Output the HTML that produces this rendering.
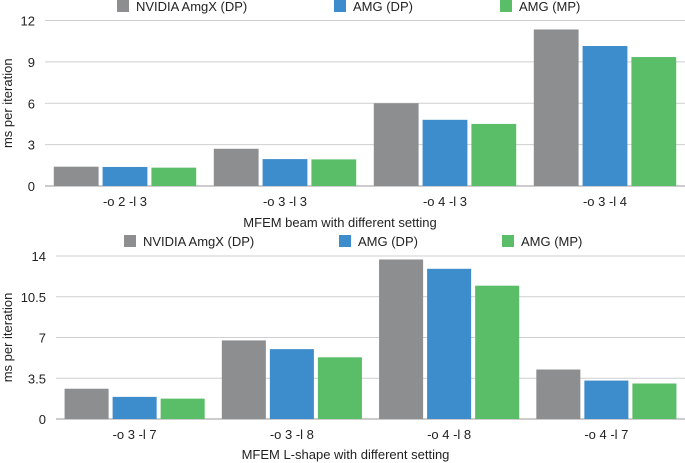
<!DOCTYPE html>
<html><head><meta charset="utf-8">
<style>
body{margin:0;background:#fff;}
svg{display:block;font-family:"Liberation Sans",sans-serif;}
</style></head>
<body>
<svg id="c" width="685" height="463"></svg>
<script>
const categoriesTop = ["-o 2 -l 3","-o 3 -l 3","-o 4 -l 3","-o 3 -l 4"];
const amgxTop = [1.4, 2.7, 6.0, 11.35];
const amgDpTop = [1.38, 1.95, 4.8, 10.15];
const amgMpTop = [1.33, 1.93, 4.5, 9.35];
const ticksTop = [0, 3, 6, 9, 12];

const categoriesBot = ["-o 3 -l 7","-o 3 -l 8","-o 4 -l 8","-o 4 -l 7"];
const amgxBot = [2.6, 6.75, 13.7, 4.25];
const amgDpBot = [1.9, 6.0, 12.9, 3.3];
const amgMpBot = [1.75, 5.3, 11.45, 3.05];
const ticksBot = [0, 3.5, 7, 10.5, 14];

const seriesNames = ["NVIDIA AmgX (DP)", "AMG (DP)", "AMG (MP)"];
const colors = ["#8c8e8f", "#3d8ccb", "#5abd67"];
const NS = "http://www.w3.org/2000/svg";
const svg = document.getElementById("c");

function mk(tag, attrs, parent){
  const e = document.createElementNS(NS, tag);
  for (const k in attrs) e.setAttribute(k, attrs[k]);
  (parent||svg).appendChild(e);
  return e;
}

function drawChart(cfg){
  const g = mk("g", {});
  
  
  const maxV = cfg.ticks[cfg.ticks.length-1];
  const y = v => cfg.y0 - (v/maxV)*(cfg.y0-cfg.yTop);
  const band = (cfg.right-cfg.left)/cfg.cats.length;
  // legend
  cfg.legend.forEach((lx,i)=>{
    const r = mk("rect",{x:lx,y:cfg.legY-6,width:12,height:12,fill:colors[i]},g);
    
    
    const t = mk("text",{x:lx+19,y:cfg.legY+5,"font-size":13,fill:"#222"},g);
    t.textContent = seriesNames[i];
    
    
  });
  // grid & ticks
  cfg.ticks.forEach(v=>{
    const yy = y(v);
    const l = mk("line",{x1:cfg.left,x2:cfg.right,y1:yy,y2:yy,stroke:v===0?"#999":"#cfcfcf","stroke-width":1},g);
    
    
    const t = mk("text",{x:cfg.left-10,y:yy+5,"font-size":13,"text-anchor":"end",fill:"#222"},g);
    t.textContent = v;
    
    
  });
  // bars
  const bw = band*0.28, gap = 4, pad = (band - 3*bw - 2*gap)/2;
  cfg.cats.forEach((c,ci)=>{
    const bx = cfg.left + ci*band;
    cfg.series.forEach((s,si)=>{
      const x = bx + pad + si*(bw+gap);
      const r = mk("rect",{x:x,y:y(s[ci]),width:bw,height:cfg.y0-y(s[ci]),fill:colors[si]},g);
      
      
    });
    const t = mk("text",{x:bx+band/2,y:cfg.y0+20,"font-size":13,"text-anchor":"middle",fill:"#222"},g);
    t.textContent = c;
    
    
  });
  const xt = mk("text",{x:(cfg.left+cfg.right)/2-25,y:cfg.xTitleY,"font-size":13,"text-anchor":"middle",fill:"#222"},g);
  xt.textContent = cfg.xTitle;
  
  
  const cy = (cfg.y0+cfg.yTop)/2;
  const yt = mk("text",{x:0,y:0,"font-size":13,"text-anchor":"middle",fill:"#222",transform:"translate(12,"+cy+") rotate(-90)"},g);
  yt.textContent = "ms per iteration";
  
  
}

drawChart({name:"top-chart",cats:categoriesTop,series:[amgxTop,amgDpTop,amgMpTop],ticks:ticksTop,
  left:45,right:685,yTop:20.5,y0:186,legY:6,legend:[117,334,500],xTitleY:227,xTitle:"MFEM beam with different setting"});
drawChart({name:"bottom-chart",cats:categoriesBot,series:[amgxBot,amgDpBot,amgMpBot],ticks:ticksBot,
  left:56,right:685,yTop:256,y0:419,legY:241,legend:[124,339,502],xTitleY:459,xTitle:"MFEM L-shape with different setting"});
</script>
</body></html>
